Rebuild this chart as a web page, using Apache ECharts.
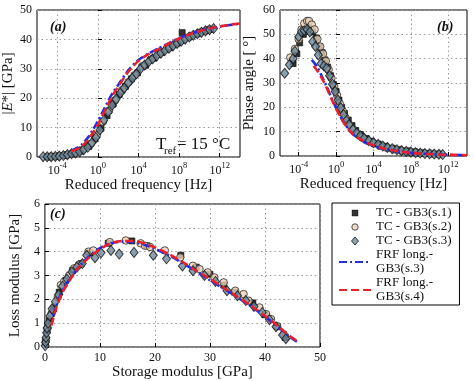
<!DOCTYPE html>
<html><head><meta charset="utf-8">
<script src="https://cdn.jsdelivr.net/npm/echarts@6/dist/echarts.min.js"></script>
<style>html,body{margin:0;padding:0;background:#fff}#c{width:474px;height:381px}</style>
</head><body><div id="c"></div>
<script>
// ---- Panel (a): |E*| vs log10(reduced frequency) ----
const freqTickExps = [-4, 0, 4, 8, 12];
const aS1Exp = [-4.9,-4.1,-3.3,-2.5,-1.7,-0.9,-0.3,0.3,0.9,1.5,2.1,2.7,3.3,3.9,4.7,5.5,6.3,7.1,7.9,8.3,8.9,9.7,10.5,11.1];
const aS1Val = [0.1,0.2,0.5,1.1,2.0,3.6,6.2,9.8,14.1,18.0,21.3,24.0,26.6,28.6,31.2,33.6,35.6,37.2,38.9,42.3,40.7,41.8,42.8,43.4];
const aS2Exp = [-4.7,-3.9,-3.1,-2.3,-1.5,-0.7,-0.1,0.5,1.1,1.7,2.4,3.0,3.6,4.4,5.2,6.0,6.8,7.6,8.4,9.2,10.0,10.8];
const aS2Val = [0.1,0.3,0.7,1.4,2.4,4.5,7.4,12.0,15.8,19.3,22.8,25.4,27.8,30.9,33.1,35.1,36.8,38.4,39.9,41.2,42.3,43.2];
const aS3Exp = [-5.4,-5.0,-4.6,-4.2,-3.8,-3.4,-3.0,-2.6,-2.2,-1.8,-1.4,-1.0,-0.6,-0.2,0.2,0.6,1.0,1.4,1.8,2.2,2.6,3.0,3.4,3.8,4.2,4.6,5.0,5.4,5.8,6.2,6.6,7.0,7.4,7.8,8.2,8.6,9.0,9.4,9.8,10.2,10.6,11.0,11.4];
const aS3Val = [0.1,0.1,0.1,0.2,0.3,0.5,0.8,1.1,1.4,1.8,2.5,3.3,4.8,6.6,9.2,12.6,15.2,17.6,19.7,21.7,23.5,25.2,26.8,28.3,30.0,31.3,32.4,33.4,34.4,35.3,36.2,37.0,37.8,38.6,39.4,40.1,40.8,41.4,41.9,42.4,42.9,43.3,43.7];
const aBlueExp = [-2.6,-2,-1.5,-1,-0.5,0,0.5,1,1.5,2,3,4,5,6,7,8,9,10,11,12,13,14];
const aBlueVal = [2.2,3.2,4.5,6.5,9.2,12.2,15.5,19.0,22.0,24.5,29.5,33.0,35.2,37.0,38.7,40.5,41.8,42.8,43.7,44.4,44.9,45.3];
const aRedExp = [-2.6,-2,-1.5,-1,-0.5,0,0.5,1,1.5,2,3,4,5,6,7,8,9,10,11,12,13,14];
const aRedVal = [2.0,2.8,3.9,5.8,8.2,11.0,14.5,18.0,21.2,24.0,29.0,32.7,35.0,36.8,38.6,40.3,41.7,42.8,43.7,44.4,45.0,45.4];

// ---- Panel (b): phase angle vs log10(reduced frequency) ----
const bS1Exp = [-4.6,-4.2,-3.9,-3.5,-3.2,-2.9,-2.5,-2.1,-1.8,-1.5,-1.2,-0.9,-0.6,-0.3,0,0.3,0.6,0.9,1.3,1.7,2.1,2.6,3.2,3.8,4.5,5.2,6,6.8,7.6,8.4,9.2,10,10.8];
const bS1Val = [38,42,46.5,50,52,52.5,51,48.5,45,42.5,39.5,36.5,33,29.5,26.5,23,20,17.5,14.8,12.5,10.5,8.8,7.2,6,4.9,4,3.2,2.6,2.1,1.7,1.3,1.0,0.8];
const bS2Exp = [-4.9,-4.4,-4.0,-3.7,-3.4,-3.1,-2.9,-2.6,-2.3,-2.0,-1.7,-1.4,-1.1,-0.8,-0.5,-0.2,0.1,0.4,0.7,1.0,1.4,1.8,2.3,2.8,3.4,4.0,4.7,5.4,6.2,7.0,7.8,8.6,9.4,10.2,11.0];
const bS2Val = [40.5,44,48,52,54.5,55.5,55.5,54,52,48,45,42,39,35.5,32,28.5,25,21.5,18.5,15.8,13,11,9,7.6,6.2,5.2,4.2,3.4,2.7,2.1,1.7,1.4,1.1,0.9,0.7];
const bS3Exp = [-5.5,-5.0,-4.6,-4.4,-4.0,-3.7,-3.4,-3.1,-2.8,-2.5,-2.2,-1.9,-1.6,-1.3,-1.0,-0.7,-0.4,-0.1,0.2,0.5,0.8,1.1,1.4,1.8,2.2,2.6,3.0,3.5,4.0,4.5,5.0,5.5,6.0,6.5,7.0,7.5,8.0,8.5,9.0,9.5,10.0,10.5,11.0,11.4];
const bS3Val = [34,37.5,40,43,49,51,51.5,52,51,47,45,41.5,38,37,36,33,29.5,26.5,23,19.8,17,14.5,12.8,10.8,9.5,8.3,7.3,6.3,5.5,4.8,4.1,3.5,3.0,2.6,2.2,1.9,1.6,1.4,1.2,1.0,0.9,0.8,0.7,0.6];
const bBlueExp = [-2.6,-2,-1.5,-1,-0.5,0,0.5,1,1.5,2,3,4,5,6,7,8,9,10,11,12,13,14];
const bBlueVal = [39.5,36.5,32.5,28.5,24,19.8,16,12.8,10.2,8.3,5.8,4.2,3.1,2.3,1.7,1.3,1.0,0.8,0.6,0.5,0.4,0.3];
const bRedExp = [-2.4,-2,-1.5,-1,-0.5,0,0.5,1,1.5,2,3,4,5,6,7,8,9,10,11,12,13,14];
const bRedVal = [37,35,31.8,28,23.5,19.5,15.8,12.6,10.1,8.4,6,4.4,3.2,2.4,1.8,1.3,1.0,0.8,0.6,0.5,0.4,0.3];

// ---- Panel (c): loss modulus vs storage modulus ----
const cS1Storage = [0.1,0.4,0.8,1.6,2.6,3.8,5,6.6,8.2,11.5,15.8,18.5,24.7,27.5,30,32.5,34.5,37.8,40,42.3,43.7];
const cS1Loss    = [0.2,0.7,1.1,1.6,2.3,2.8,3.2,3.5,3.95,4.35,4.45,4.25,3.85,3.35,3.05,2.6,2.3,1.85,1.35,0.85,0.4];
const cS2Storage = [0.2,0.5,1.2,2.35,2.9,3.5,4.4,5.3,6.2,7.9,8.8,11.8,14.7,17.4,18.2,19.1,21.8,24.6,26.9,28.1,29.6,30.8,32.5,34.6,36.1,37,39,40.2,41.1,42.2,43.4];
const cS2Loss    = [0.3,0.8,1.4,2.1,2.6,2.75,3.0,3.3,3.45,4.0,4.05,4.4,4.47,4.35,4.25,4.2,4.05,3.76,3.41,3.27,3.13,2.92,2.71,2.36,2.22,1.94,1.66,1.38,1.17,0.88,0.53];
const cS3Storage = [0.05,0.1,0.2,0.3,0.4,0.6,0.9,1.3,1.9,2.5,3.2,4,4.9,5.8,6.8,7.6,9.1,10.2,12,13.5,16.2,19.7,22.1,25,26.9,29,31,33.1,35,36.5,38,39.5,40.8,42,43.2,43.8];
const cS3Loss    = [0.05,0.2,0.4,0.6,0.8,1.0,1.3,1.6,1.9,2.2,2.55,2.85,3.15,3.35,3.5,3.85,3.75,3.95,4.05,3.9,3.97,3.85,3.7,3.4,3.2,3.0,2.75,2.36,2.15,1.95,1.7,1.45,1.15,0.85,0.5,0.35];
const cBlueStorage = [1.5,2.5,3.5,5,6.5,8,10,12,14,16,18,20,22.5,25,27.5,30,32.5,35,37.5,40,42.5,44,45.8];
const cBlueLoss    = [1.3,2.0,2.5,3.0,3.45,3.8,4.15,4.35,4.42,4.4,4.3,4.12,3.85,3.52,3.17,2.8,2.45,2.08,1.7,1.28,0.82,0.52,0.22];
const cRedStorage  = [1.2,2,3,4.5,6,8,10,12,14,16,18,20,22.5,25,27.5,30,32.5,35,37.5,40,42.5,44,45.8];
const cRedLoss     = [0.9,1.6,2.2,2.8,3.3,3.75,4.1,4.35,4.45,4.45,4.35,4.18,3.9,3.57,3.2,2.85,2.48,2.1,1.72,1.3,0.85,0.55,0.25];

const seriesNames = ['TC - GB3(s.1)', 'TC - GB3(s.2)', 'TC - GB3(s.3)', 'FRF long.-GB3(s.3)', 'FRF long.-GB3(s.4)'];

const FONT = '"Liberation Serif", "Times New Roman", serif';
const zip = (a, b) => a.map((v, i) => [v, b[i]]);

const markerStyles = [
  {symbol: 'rect', symbolSize: 6, itemStyle: {color: '#000', borderColor: '#000', borderWidth: 0.8},
   legendIcon: 'path://M0,0M32,10M13,2L19,2L19,8L13,8Z'},
  {symbol: 'circle', symbolSize: 7.5, itemStyle: {color: '#ebd1b4', borderColor: '#2a2a2a', borderWidth: 1},
   legendIcon: 'path://M0,0M32,10M12.8,5A3.2,3.2,0,1,1,19.2,5A3.2,3.2,0,1,1,12.8,5Z'},
  {symbol: 'diamond', symbolSize: [8, 10], itemStyle: {color: '#6f8a9b', borderColor: '#111', borderWidth: 1},
   legendIcon: 'path://M0,0M32,10M16,1L19.5,5L16,9L12.5,5Z'}
];
const lineStyles = [
  {color: '#1f2fe0', width: 2.6, type: [8, 3, 2, 3]},
  {color: '#e8202a', width: 2.6, type: [8, 4]}
];

function scat(idx, g, data) {
  const m = markerStyles[idx];
  return {type: 'scatter', name: seriesNames[idx], xAxisIndex: g, yAxisIndex: g, data: data,
    symbol: m.symbol, symbolSize: m.symbolSize, itemStyle: m.itemStyle, silent: true, z: 2 + idx};
}
function line(idx, g, data) {
  const l = lineStyles[idx];
  return {type: 'line', name: seriesNames[3 + idx], xAxisIndex: g, yAxisIndex: g, data: data,
    showSymbol: false, symbol: 'none', smooth: 0.3, lineStyle: l, itemStyle: {color: l.color}, silent: true, z: 6 + idx};
}

const tickLabelStyle = {color: '#111', fontFamily: FONT, fontSize: 12};
const nameStyle = {color: '#111', fontFamily: FONT, fontSize: 15};
const splitLine = {show: true, lineStyle: {color: '#9a9a9a', type: [1.5, 3], width: 1}};
const axisTick = {show: true, inside: true, length: 4, lineStyle: {color: '#000'}};

function freqAxis(g) {
  return {type: 'value', gridIndex: g, min: -6, max: 14,
    name: 'Reduced frequency [Hz]', nameLocation: 'middle', nameGap: 20, nameTextStyle: nameStyle,
    axisLine: {show: false},
    axisTick: Object.assign({}, axisTick, {customValues: freqTickExps}),
    splitLine: splitLine,
    axisLabel: {customValues: freqTickExps, margin: 4,
      formatter: v => '{b|10}{s|' + v + '}',
      rich: {b: {fontFamily: FONT, fontSize: 12, color: '#111', lineHeight: 16, verticalAlign: 'bottom'},
             s: {fontFamily: FONT, fontSize: 8.5, color: '#111', lineHeight: 9, verticalAlign: 'top'}}}
  };
}

const legendData = [
  {name: seriesNames[0], icon: markerStyles[0].legendIcon, itemStyle: {color: '#000', borderColor: '#000', borderWidth: 0.5}},
  {name: seriesNames[1], icon: markerStyles[1].legendIcon, itemStyle: {color: '#ebd1b4', borderColor: '#2a2a2a', borderWidth: 1}},
  {name: seriesNames[2], icon: markerStyles[2].legendIcon, itemStyle: {color: '#6f8a9b', borderColor: '#111', borderWidth: 1}},
  {name: seriesNames[3], itemStyle: {color: 'rgba(0,0,0,0)', borderColor: 'rgba(0,0,0,0)', borderWidth: 0, opacity: 0}},
  {name: seriesNames[4], itemStyle: {color: 'rgba(0,0,0,0)', borderColor: 'rgba(0,0,0,0)', borderWidth: 0, opacity: 0}}
];

const option = {
  animation: false,
  backgroundColor: '#fff',
  grid: [
    {left: 37, top: 10, width: 203, height: 147, show: true, borderColor: '#000', borderWidth: 1, backgroundColor: 'transparent'},
    {left: 280, top: 10, width: 187, height: 146, show: true, borderColor: '#000', borderWidth: 1, backgroundColor: 'transparent'},
    {left: 37, top: 204, width: 283, height: 143, show: true, borderColor: '#000', borderWidth: 1, backgroundColor: 'transparent'}
  ],
  xAxis: [
    freqAxis(0),
    freqAxis(1),
    {type: 'value', gridIndex: 2, min: 0, max: 50, interval: 10,
      name: 'Storage modulus [GPa]', nameLocation: 'middle', nameGap: 17, nameTextStyle: nameStyle,
      axisLine: {show: false}, axisTick: axisTick, splitLine: splitLine,
      axisLabel: Object.assign({margin: 5}, tickLabelStyle)}
  ],
  yAxis: [
    {type: 'value', gridIndex: 0, min: 0, max: 50, interval: 10,
      name: '|{i|E}*| [GPa]', nameLocation: 'middle', nameGap: 21,
      nameTextStyle: Object.assign({}, nameStyle, {rich: {i: {fontFamily: FONT, fontSize: 15, fontStyle: 'italic', color: '#111'}}}),
      axisLine: {show: false}, axisTick: axisTick, splitLine: splitLine,
      axisLabel: Object.assign({margin: 5}, tickLabelStyle)},
    {type: 'value', gridIndex: 1, min: 0, max: 60, interval: 10,
      name: 'Phase angle [ °]', nameLocation: 'middle', nameGap: 23, nameTextStyle: nameStyle,
      axisLine: {show: false}, axisTick: axisTick, splitLine: splitLine,
      axisLabel: Object.assign({margin: 5}, tickLabelStyle)},
    {type: 'value', gridIndex: 2, min: 0, max: 6, interval: 1,
      name: 'Loss modulus [GPa]', nameLocation: 'middle', nameGap: 15, nameTextStyle: nameStyle,
      axisLine: {show: false}, axisTick: axisTick, splitLine: splitLine,
      axisLabel: Object.assign({margin: 5}, tickLabelStyle)}
  ],
  legend: {
    orient: 'vertical', left: 332, top: 203, width: 121,
    padding: [3, 8, 1, 6], itemGap: 0, itemWidth: 32, itemHeight: 10,
    backgroundColor: '#fff', borderColor: '#000', borderWidth: 1,
    data: legendData,
    formatter: n => n.replace('long.-', 'long.-\n'),
    textStyle: {fontFamily: FONT, fontSize: 13, color: '#111', lineHeight: 14}
  },
  graphic: [
    {type: 'text', left: 50, top: 20, style: {text: '(a)', font: 'italic bold 14px ' + FONT, fill: '#111'}},
    {type: 'text', left: 437, top: 20, style: {text: '(b)', font: 'italic bold 14px ' + FONT, fill: '#111'}},
    {type: 'text', left: 50, top: 207, style: {text: '(c)', font: 'italic bold 14px ' + FONT, fill: '#111'}},
    {type: 'text', left: 156, top: 136, style: {text: 'T', font: '17px ' + FONT, fill: '#111'}},
    {type: 'text', left: 164, top: 146, style: {text: 'ref', font: '11px ' + FONT, fill: '#111'}},
    {type: 'text', left: 177, top: 136, style: {text: '= 15 °C', font: '17px ' + FONT, fill: '#111'}}
  ],
  series: [
    scat(0, 0, zip(aS1Exp, aS1Val)), scat(1, 0, zip(aS2Exp, aS2Val)), scat(2, 0, zip(aS3Exp, aS3Val)),
    line(0, 0, zip(aBlueExp, aBlueVal)), line(1, 0, zip(aRedExp, aRedVal)),
    scat(0, 1, zip(bS1Exp, bS1Val)), scat(1, 1, zip(bS2Exp, bS2Val)), scat(2, 1, zip(bS3Exp, bS3Val)),
    line(0, 1, zip(bBlueExp, bBlueVal)), line(1, 1, zip(bRedExp, bRedVal)),
    scat(0, 2, zip(cS1Storage, cS1Loss)), scat(1, 2, zip(cS2Storage, cS2Loss)), scat(2, 2, zip(cS3Storage, cS3Loss)),
    line(0, 2, zip(cBlueStorage, cBlueLoss)), line(1, 2, zip(cRedStorage, cRedLoss))
  ]
};
const chart = echarts.init(document.getElementById('c'), null, {renderer: 'canvas'});
chart.setOption(option);
</script>
</body></html>
